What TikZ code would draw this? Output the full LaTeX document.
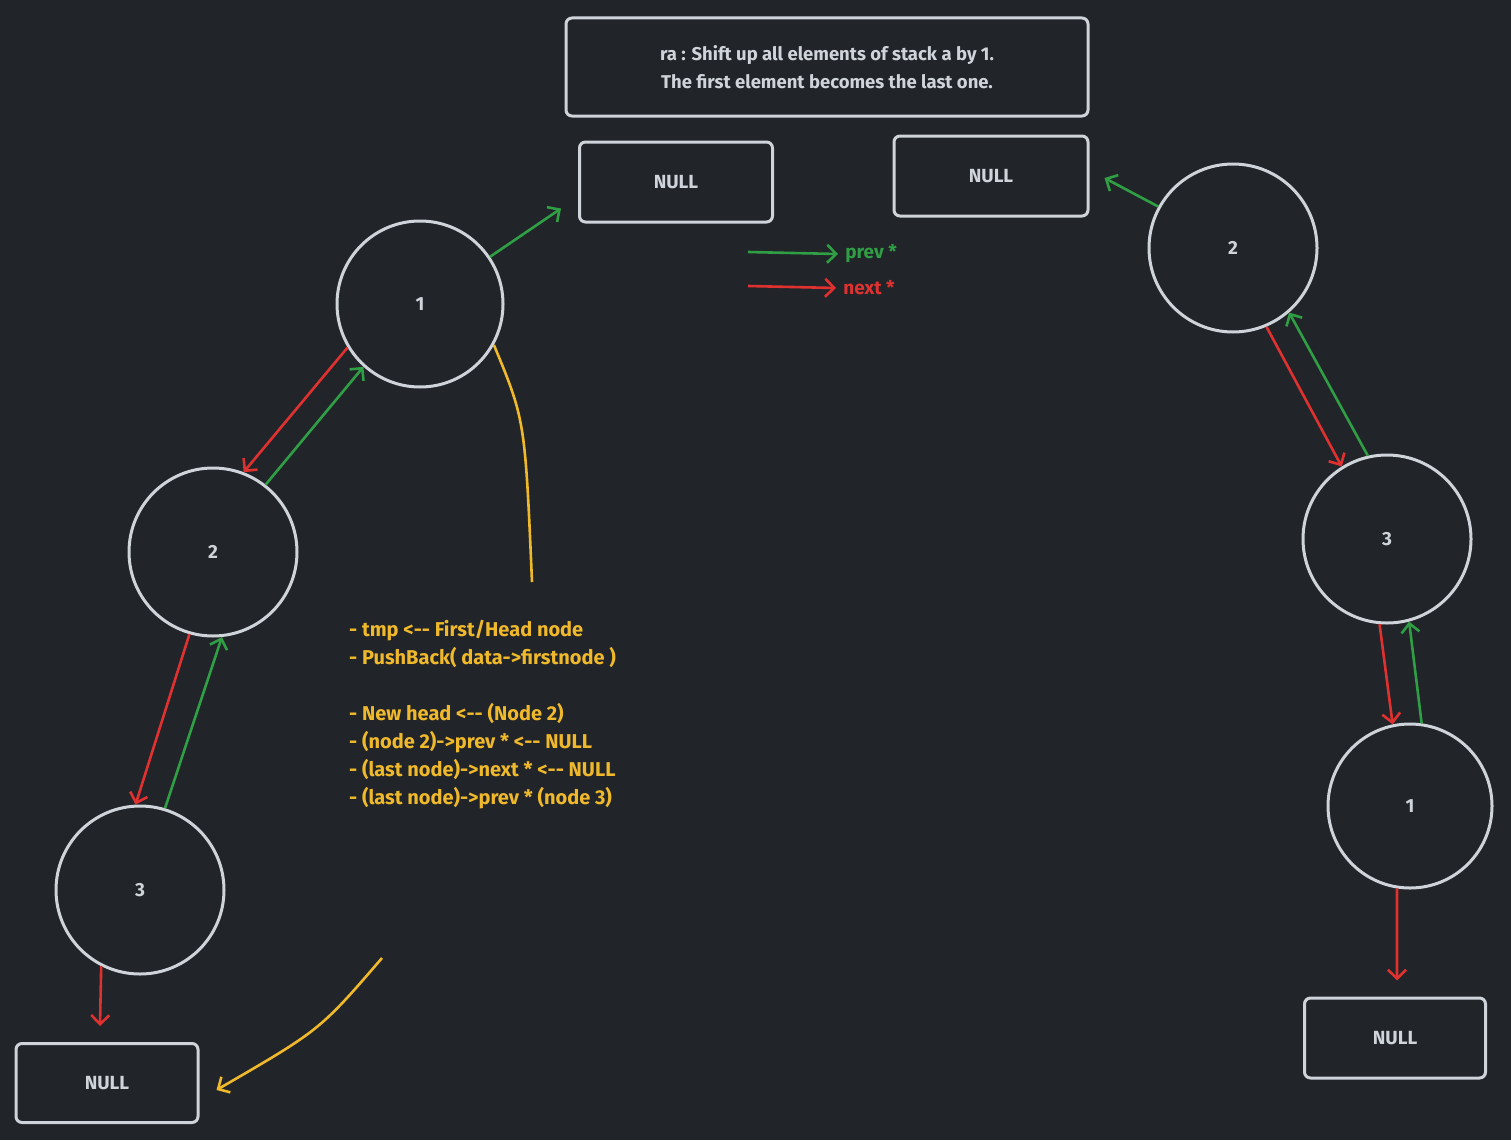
\documentclass[tikz,border=0pt]{standalone}
\usepackage{fontspec}
\setmainfont{Fira Sans}
\usetikzlibrary{arrows.meta,calc}
\definecolor{bg}{HTML}{212428}
\definecolor{st}{HTML}{CED4DA}
\definecolor{gr}{HTML}{2F9E44}
\definecolor{rd}{HTML}{E03131}
\definecolor{yl}{HTML}{F0B92C}
\tikzset{
  x=1pt,y=-1pt,
  every node/.style={font=\bfseries\fontsize{19}{24}\selectfont, text=st},
  box/.style={draw=st, line width=3pt, rounded corners=6pt, inner sep=0pt},
  circ/.style={draw=st, line width=3pt, circle, minimum size=166pt, inner sep=0pt},
  arr/.style={line width=2.6pt, -{Straight Barb[length=9pt,width=18pt,line width=2.6pt]}},
  garr/.style={arr, draw=gr},
  rarr/.style={arr, draw=rd},
}
\begin{document}
\begin{tikzpicture}
\fill[bg] (0,0) rectangle (1511,1140);
\useasboundingbox (0,0) rectangle (1511,1140);
% boxes
\node[box, minimum width=522pt, minimum height=98pt, align=center, font=\bfseries\fontsize{18.5}{28}\selectfont] (title) at (827,67)
  {ra : Shift up all elements of stack a by 1.\\The first element becomes the last one.};
\node[box, minimum width=193pt, minimum height=80pt] (n1) at (676,182) {NULL};
\node[box, minimum width=194pt, minimum height=80pt] (n2) at (991,176) {NULL};
\node[box, minimum width=182pt, minimum height=79pt] (n3) at (107,1083) {NULL};
\node[box, minimum width=181pt, minimum height=80pt] (n4) at (1395,1038) {NULL};
% circles
\node[circ] (c1) at (420,304) {1};
\node[circ, minimum size=168pt] (c2) at (213,552) {2};
\node[circ, minimum size=168pt] (c3) at (140,890) {3};
\node[circ, minimum size=168pt] (r2) at (1233,248) {2};
\node[circ, minimum size=168pt] (r3) at (1387,539) {3};
\node[circ, minimum size=164pt] (r1) at (1410,806) {1};
% left arrows
\draw[garr] (c1.34) -- ($(n1.south west)+(-17,-15)$);
\draw[rarr] (c1.211) -- (c2.69);
\draw[garr] (c2.52) -- (c1.228);
\draw[rarr] (c2.254) -- (c3.93);
\draw[garr] (c3.73) -- (c2.276);
\draw[rarr] (c3.243) -- ($(n3.north)+(-7,-16)$);
% right arrows
\draw[garr] (r2.151) -- ($(n2.east)+(15,2)$);
\draw[rarr] (r2.293) -- (r3.122);
\draw[garr] (r3.103) -- (r2.311);
\draw[rarr] (r3.265) -- (r1.102);
\draw[garr] (r1.82) -- (r3.285);
\draw[rarr] (r1.261) -- ($(n4.north)+(2,-16)$);
% legend
\coordinate (lg1) at (748,252);
\coordinate (lr1) at (748,286);
\draw[garr] (lg1) -- ++(90,2) node[right, text=gr, inner sep=6pt] (lgt) {prev *};
\draw[rarr] (lr1) -- ++(88,2) node[right, text=rd, inner sep=6pt] (lrt) {next *};
% yellow
\coordinate (y1) at (532,582);
\draw[yl, line width=2.6pt] (c1.331) .. controls (525,420) .. (y1);
\coordinate (y2) at (382,958);
\draw[yl, arr] (y2) .. controls (320,1030) .. ($(n3.east)+(17,7)$);
\node[anchor=north west, align=left, text=yl, inner sep=0pt, font=\bfseries\fontsize{20}{28}\selectfont] (txt) at (349,620)
 {- tmp <{-}{-} First/Head node\\
  - PushBack( data->firstnode )\\[28pt]
  - New head <{-}{-} (Node 2)\\
  - (node 2)->prev * <{-}{-} NULL\\
  - (last node)->next * <{-}{-} NULL\\
  - (last node)->prev * (node 3)};
\end{tikzpicture}
\end{document}
